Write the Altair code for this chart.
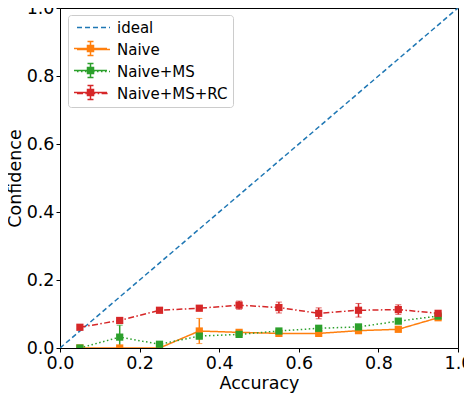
import altair as alt
import pandas as pd

# ---- data ----
acc = [0.05, 0.15, 0.25, 0.35, 0.45, 0.55, 0.65, 0.75, 0.85, 0.95]
naive = [0.0, 0.0, 0.0, 0.05, 0.046, 0.043, 0.043, 0.051, 0.055, 0.089]
naive_err = [0.0, 0.0, 0.0, 0.037, 0.004, 0.004, 0.005, 0.004, 0.004, 0.005]
ms = [0.0, 0.032, 0.011, 0.035, 0.04, 0.05, 0.058, 0.062, 0.079, 0.094]
ms_err = [0.0, 0.035, 0.004, 0.008, 0.004, 0.004, 0.005, 0.005, 0.004, 0.005]
rc = [0.061, 0.081, 0.111, 0.117, 0.126, 0.119, 0.102, 0.111, 0.113, 0.102]
rc_err = [0.004, 0.005, 0.004, 0.005, 0.012, 0.016, 0.016, 0.02, 0.014, 0.005]
ideal_x = [0.0, 1.0]
ideal_y = [0.0, 1.0]

series_names = ["ideal", "Naive", "Naive+MS", "Naive+MS+RC"]
series_colors = ["#1f77b4", "#ff7f0e", "#2ca02c", "#d62728"]
series_dash = [[5, 3], [1, 0], [1.5, 2.5], [6, 2.4, 1.5, 2.4]]

rows = []
for xv, yv in zip(ideal_x, ideal_y):
    rows.append({"series": "ideal", "x": xv, "y": yv, "lo": yv, "hi": yv})
for name, vals, errs in [("Naive", naive, naive_err), ("Naive+MS", ms, ms_err), ("Naive+MS+RC", rc, rc_err)]:
    for xv, yv, ev in zip(acc, vals, errs):
        rows.append({"series": name, "x": xv, "y": yv, "lo": yv - ev, "hi": yv + ev})
df = pd.DataFrame(rows)

# legend glyphs (custom symbol paths)
MARK_PATH = "M-3.3,0H3.3M0,-1.4V1.4M-0.6,-1.4H0.6M-0.6,1.4H0.6M-0.6,-0.6H0.6V0.6H-0.6Z"
LINE_PATH = "M-3.3,0H3.3"

common_legend = dict(
    title=None,
    orient="none",
    legendX=8,
    padding=5,
    labelFont="DejaVu Sans",
    labelFontSize=15,
    labelColor="black",
    labelOffset=16,
    symbolSize=100,
    symbolStrokeWidth=1.5,
)

legend_lines = alt.Legend(
    legendY=7,
    rowPadding=6,
    symbolOffset=13,
    strokeColor="#cccccc",
    cornerRadius=3,
    symbolType=LINE_PATH,
    **common_legend,
)
legend_marks = alt.Legend(
    legendY=6,
    rowPadding=1,
    symbolOffset=10,
    labelOpacity=0,
    **common_legend,
)

color = alt.Color(
    "series:N",
    scale=alt.Scale(domain=series_names, range=series_colors),
    legend=legend_lines,
)
color_nl = alt.Color(
    "series:N",
    scale=alt.Scale(domain=series_names, range=series_colors),
    legend=None,
)

axis_style = dict(
    values=[0, 0.2, 0.4, 0.6, 0.8, 1.0],
    format=".1f",
    grid=False,
    tickSize=4,
    tickColor="black",
    domainColor="black",
    labelColor="black",
    labelFont="DejaVu Sans",
    labelFontSize=17.5,
    labelFlush=False,
    labelOverlap=False,
    titleFont="DejaVu Sans",
    titleFontSize=17.5,
    titleFontWeight="normal",
    titleColor="black",
    labelPadding=2,
)

xs = alt.X(
    "x:Q",
    scale=alt.Scale(domain=[0, 1], nice=False),
    axis=alt.Axis(title="Accuracy", titlePadding=3, **axis_style),
)
ys = alt.Y(
    "y:Q",
    scale=alt.Scale(domain=[0, 1], nice=False),
    axis=alt.Axis(title="Confidence", titlePadding=2, **axis_style),
)

base = alt.Chart(df)

lines = base.mark_line(strokeWidth=1.5, clip=True).encode(
    x=xs,
    y=ys,
    color=color,
    strokeDash=alt.StrokeDash(
        "series:N",
        scale=alt.Scale(domain=series_names, range=series_dash),
        legend=legend_lines,
    ),
    detail="series:N",
)

pts_data = base.transform_filter("datum.series !== 'ideal'")

bars = pts_data.mark_rule(strokeWidth=1.5, clip=True).encode(
    x="x:Q", y="lo:Q", y2="hi:Q", color=color_nl
)
caps_lo = pts_data.mark_tick(orient="horizontal", size=6, thickness=1, clip=True).encode(
    x="x:Q", y="lo:Q", color=color_nl
)
caps_hi = pts_data.mark_tick(orient="horizontal", size=6, thickness=1, clip=True).encode(
    x="x:Q", y="hi:Q", color=color_nl
)
points = pts_data.mark_point(shape="square", filled=True, size=52, opacity=1, clip=True).encode(
    x="x:Q", y="y:Q", color=color_nl
)

# legend-only layer (no rows drawn) that supplies the marker + error-bar glyphs
b_names = [n + " " for n in series_names]
b_colors = ["transparent"] + series_colors[1:]
ghost = (
    base.transform_filter("false")
    .transform_calculate(sb="datum.series + ' '")
    .mark_point(filled=True, strokeWidth=1.5, opacity=1)
    .encode(
        x="x:Q",
        y="y:Q",
        fill=alt.Fill("sb:N", scale=alt.Scale(domain=b_names, range=b_colors), legend=legend_marks),
        stroke=alt.Stroke("sb:N", scale=alt.Scale(domain=b_names, range=b_colors), legend=legend_marks),
        shape=alt.Shape(
            "sb:N",
            scale=alt.Scale(domain=b_names, range=[MARK_PATH] * 4),
            legend=legend_marks,
        ),
    )
)

chart = (
    alt.layer(lines, bars, caps_lo, caps_hi, points, ghost)
    .properties(
        width=398,
        height=340,
        autosize=alt.AutoSizeParams(type="none"),
        padding={"left": 52, "top": 0, "right": 6, "bottom": 46},
    )
    .configure_view(stroke="black", strokeWidth=1)
)

chart.save("out.html", embed_options={"renderer": "svg", "actions": False})
